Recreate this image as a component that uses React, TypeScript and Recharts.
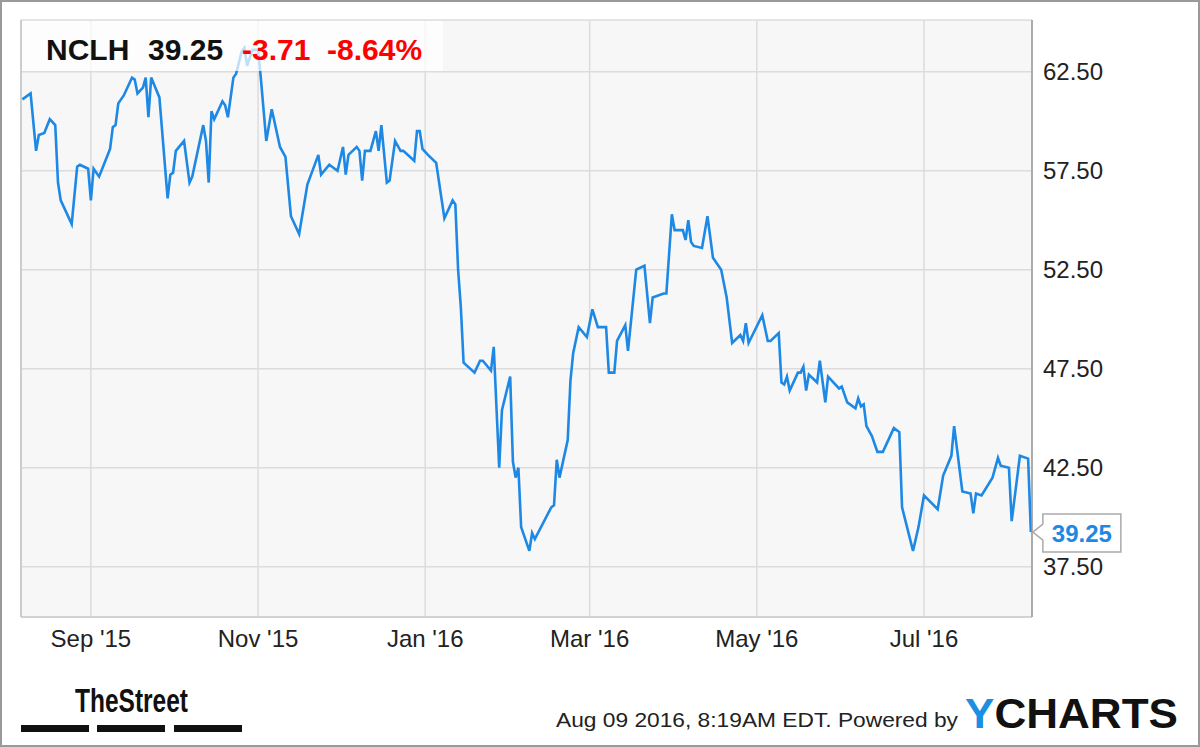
import React from 'react';
import {
  LineChart,
  Line,
  XAxis,
  YAxis,
  CartesianGrid,
  ReferenceLine,
  ReferenceDot,
} from 'recharts';

// ---------------------------------------------------------------------------
// Data (NCLH daily close)
// ---------------------------------------------------------------------------
const dates = [
  '2015-08-07', '2015-08-10', '2015-08-12', '2015-08-13', '2015-08-15', '2015-08-17', '2015-08-19', '2015-08-20',
  '2015-08-21', '2015-08-25', '2015-08-27', '2015-08-28', '2015-08-31', '2015-09-01', '2015-09-02', '2015-09-04',
  '2015-09-06', '2015-09-08', '2015-09-09', '2015-09-10', '2015-09-11', '2015-09-13', '2015-09-16', '2015-09-17',
  '2015-09-18', '2015-09-20', '2015-09-21', '2015-09-22', '2015-09-23', '2015-09-26', '2015-09-29', '2015-09-30',
  '2015-10-01', '2015-10-02', '2015-10-05', '2015-10-07', '2015-10-08', '2015-10-12', '2015-10-13', '2015-10-14',
  '2015-10-15', '2015-10-16', '2015-10-19', '2015-10-20', '2015-10-21', '2015-10-23', '2015-10-24', '2015-10-26',
  '2015-10-27', '2015-10-28', '2015-10-30', '2015-11-01', '2015-11-02', '2015-11-04', '2015-11-06', '2015-11-09',
  '2015-11-11', '2015-11-13', '2015-11-16', '2015-11-19', '2015-11-23', '2015-11-24', '2015-11-27', '2015-11-30',
  '2015-12-02', '2015-12-03', '2015-12-04', '2015-12-07', '2015-12-08', '2015-12-09', '2015-12-10', '2015-12-12',
  '2015-12-14', '2015-12-15', '2015-12-16', '2015-12-18', '2015-12-19', '2015-12-21', '2015-12-23', '2015-12-24',
  '2015-12-28', '2015-12-29', '2015-12-30', '2015-12-31', '2016-01-02', '2016-01-05', '2016-01-08', '2016-01-11',
  '2016-01-12', '2016-01-13', '2016-01-14', '2016-01-15', '2016-01-19', '2016-01-21', '2016-01-22', '2016-01-25',
  '2016-01-26', '2016-01-28', '2016-01-29', '2016-02-01', '2016-02-02', '2016-02-03', '2016-02-04', '2016-02-05',
  '2016-02-08', '2016-02-09', '2016-02-10', '2016-02-16', '2016-02-17', '2016-02-18', '2016-02-19', '2016-02-22',
  '2016-02-23', '2016-02-24', '2016-02-26', '2016-02-29', '2016-03-02', '2016-03-04', '2016-03-07', '2016-03-08',
  '2016-03-10', '2016-03-11', '2016-03-14', '2016-03-15', '2016-03-18', '2016-03-21', '2016-03-23', '2016-03-24',
  '2016-03-28', '2016-03-29', '2016-03-31', '2016-04-01', '2016-04-04', '2016-04-05', '2016-04-06', '2016-04-07',
  '2016-04-08', '2016-04-11', '2016-04-13', '2016-04-15', '2016-04-18', '2016-04-20', '2016-04-22', '2016-04-25',
  '2016-04-26', '2016-04-27', '2016-04-28', '2016-05-03', '2016-05-05', '2016-05-06', '2016-05-09', '2016-05-10',
  '2016-05-11', '2016-05-12', '2016-05-13', '2016-05-16', '2016-05-17', '2016-05-18', '2016-05-19', '2016-05-20',
  '2016-05-23', '2016-05-24', '2016-05-26', '2016-05-27', '2016-05-31', '2016-06-01', '2016-06-03', '2016-06-06',
  '2016-06-07', '2016-06-08', '2016-06-09', '2016-06-10', '2016-06-12', '2016-06-14', '2016-06-16', '2016-06-20',
  '2016-06-22', '2016-06-23', '2016-06-27', '2016-06-29', '2016-07-01', '2016-07-06', '2016-07-08', '2016-07-11',
  '2016-07-12', '2016-07-15', '2016-07-18', '2016-07-19', '2016-07-20', '2016-07-22', '2016-07-26', '2016-07-28',
  '2016-07-29', '2016-08-01', '2016-08-02', '2016-08-05', '2016-08-08', '2016-08-09',
];

const prices = [
  61.1, 61.4, 58.5, 59.3, 59.4, 60.1, 59.8, 56.9,
  56.0, 54.8, 57.7, 57.8, 57.6, 56.0, 57.6, 57.2,
  57.9, 58.6, 59.7, 59.8, 60.9, 61.3, 62.2, 62.1,
  61.4, 61.7, 62.2, 60.2, 62.2, 61.2, 56.1, 57.3,
  57.4, 58.5, 59.0, 56.9, 57.2, 59.8, 59.0, 56.9,
  60.5, 60.1, 61.0, 60.8, 60.2, 62.2, 62.4, 63.5,
  63.7, 62.8, 63.6, 63.6, 62.2, 59.0, 60.6, 58.7,
  58.2, 55.2, 54.3, 56.8, 58.3, 57.3, 57.8, 57.5,
  58.7, 57.3, 58.3, 58.7, 58.5, 57.0, 58.5, 58.5,
  59.5, 58.5, 59.8, 56.9, 57.0, 59.0, 58.5, 58.5,
  58.0, 59.5, 59.5, 58.6, 58.3, 57.9, 55.1, 56.0,
  55.8, 52.5, 50.6, 47.8, 47.3, 47.9, 47.9, 47.4,
  48.6, 42.5, 45.4, 47.1, 42.8, 42.0, 42.5, 39.5,
  38.3, 39.2, 38.9, 40.5, 40.6, 42.9, 42.0, 43.9,
  46.9, 48.3, 49.6, 49.1, 50.5, 49.6, 49.6, 47.3,
  47.3, 48.9, 49.7, 48.4, 52.5, 52.7, 49.8, 51.1,
  51.3, 51.3, 55.3, 54.5, 54.5, 54.0, 55.0, 53.9,
  53.7, 53.6, 55.2, 53.1, 52.5, 51.1, 48.8, 49.2,
  48.9, 49.8, 48.8, 50.2, 48.9, 48.9, 49.3, 46.8,
  46.7, 47.1, 46.4, 47.3, 47.3, 47.6, 46.4, 47.2,
  46.8, 47.9, 45.8, 47.1, 46.5, 46.6, 45.8, 45.5,
  46.0, 45.6, 45.7, 44.6, 44.1, 43.3, 43.3, 44.5,
  44.3, 40.5, 38.3, 39.5, 41.1, 40.4, 42.1, 43.1,
  44.6, 41.3, 41.2, 40.2, 41.2, 41.1, 42.0, 43.0,
  42.6, 42.5, 39.8, 43.1, 42.96, 39.25,
];

const xTickDates = ['2015-09-01', '2015-11-01', '2016-01-01', '2016-03-01', '2016-05-01', '2016-07-01'];
const yTicks = [37.5, 42.5, 47.5, 52.5, 57.5, 62.5];

const ticker = 'NCLH';
const lastPrice = 39.25;
const change = -3.71;
const changePct = -8.64;

// ---------------------------------------------------------------------------
// Derived
// ---------------------------------------------------------------------------
const data = dates.map((d, i) => ({ t: Date.parse(d), price: prices[i] }));
const lastPoint = data[data.length - 1];
const xTicks = xTickDates.map((d) => Date.parse(d));
const xDomain = [Date.UTC(2015, 7, 6, 12), Date.UTC(2016, 7, 9, 10)];
const yDomain = [34.96, 65.11];

const MONTHS = ['Jan', 'Feb', 'Mar', 'Apr', 'May', 'Jun', 'Jul', 'Aug', 'Sep', 'Oct', 'Nov', 'Dec'];
const fmtDate = (t: number) => {
  const d = new Date(t);
  return `${MONTHS[d.getUTCMonth()]} '${String(d.getUTCFullYear()).slice(2)}`;
};

const FONT = '"Liberation Sans", Arial, sans-serif';
const BLUE = '#1e88e5';

// last-value callout sitting on the price axis
const LastValueTag = (props: any) => {
  const { cx, cy } = props;
  if (cx == null || cy == null) return <g />;
  const tip = cx + 2;
  const bx = tip + 10;
  const w = 78;
  return (
    <g>
      <path
        d={`M${tip},${cy} L${bx},${cy - 8} L${bx},${cy - 18} L${bx + w},${cy - 18} L${bx + w},${cy + 20} L${bx},${cy + 20} L${bx},${cy + 8} Z`}
        fill="#ffffff"
        stroke="#aaaaaa"
        strokeWidth={1.5}
      />
      <text
        x={bx + w / 2}
        y={cy + 10}
        textAnchor="middle"
        fill={BLUE}
        fontFamily={FONT}
        fontWeight="bold"
        fontSize={24}
      >
        {lastPrice.toFixed(2)}
      </text>
    </g>
  );
};

export default function App() {
  return (
    <div style={{ position: 'absolute', left: 0, top: 0, width: 1200, height: 747, background: '#ffffff' }}>
      <LineChart width={1200} height={747} data={data} margin={{ top: 20, right: 0, left: 21, bottom: 90 }}>
        <CartesianGrid fill="#f7f7f7" stroke="#dcdcdc" strokeWidth={1.5} />
        <XAxis
          dataKey="t"
          type="number"
          scale="linear"
          domain={xDomain}
          ticks={xTicks}
          tickFormatter={fmtDate}
          height={40}
          tickLine={false}
          tickMargin={7}
          axisLine={{ stroke: '#cccccc', strokeWidth: 1.5 }}
          tick={{ fill: '#222222', fontSize: 24, fontFamily: FONT }}
          allowDataOverflow
        />
        <YAxis
          orientation="right"
          type="number"
          domain={yDomain}
          ticks={yTicks}
          tickFormatter={(v: number) => v.toFixed(2)}
          width={168}
          tickLine={false}
          tickMargin={5}
          axisLine={{ stroke: '#999999', strokeWidth: 1.5 }}
          tick={{ fill: '#222222', fontSize: 24, fontFamily: FONT, textAnchor: 'start' }}
          allowDataOverflow
        />
        <ReferenceLine x={xDomain[0]} stroke="#c4c4c4" strokeWidth={1.5} />
        <Line
          type="linear"
          dataKey="price"
          stroke={BLUE}
          strokeWidth={2.6}
          dot={false}
          activeDot={false}
          isAnimationActive={false}
        />
        <ReferenceDot
          x={lastPoint.t}
          y={lastPoint.price}
          ifOverflow="visible"
          shape={(p: any) => <LastValueTag {...p} />}
        />
      </LineChart>

      <svg
        width={1200}
        height={747}
        style={{ position: 'absolute', left: 0, top: 0, pointerEvents: 'none' }}
      >
        {/* header box */}
        <rect x={22} y={21} width={421} height={50} fill="rgba(255,255,255,0.72)" />
        <text y={60} fontFamily={FONT} fontWeight="bold" fontSize={30}>
          <tspan x={46} fill="#111111">{ticker}</tspan>
          <tspan x={148} fill="#111111">{lastPrice.toFixed(2)}</tspan>
          <tspan x={242} fill="#ff0000">{change.toFixed(2)}</tspan>
          <tspan x={327} fill="#ff0000">{`${changePct.toFixed(2)}%`}</tspan>
        </text>

        {/* TheStreet logo */}
        <text
          x={75}
          y={712}
          fontFamily='"Liberation Sans Narrow", "Liberation Sans", Arial, sans-serif'
          fontWeight="bold"
          fontSize={34}
          fill="#111111"
          textLength={113}
          lengthAdjust="spacingAndGlyphs"
        >
          TheStreet
        </text>
        <rect x={21} y={725} width={68} height={7} fill="#111111" />
        <rect x={97} y={725} width={68} height={7} fill="#111111" />
        <rect x={174} y={725} width={68} height={7} fill="#111111" />

        {/* credits */}
        <text
          x={556}
          y={727}
          fontFamily={FONT}
          fontSize={21}
          fill="#222222"
          textLength={402}
          lengthAdjust="spacingAndGlyphs"
        >
          Aug 09 2016, 8:19AM EDT.  Powered by
        </text>
        <text
          x={965}
          y={728}
          fontFamily={FONT}
          fontWeight="bold"
          fontSize={43}
          textLength={213}
          lengthAdjust="spacingAndGlyphs"
        >
          <tspan fill="#1a8fe3">Y</tspan>
          <tspan fill="#111111">CHARTS</tspan>
        </text>

        {/* outer frame */}
        <rect x={1} y={1} width={1198} height={745} fill="none" stroke="#9a9a9a" strokeWidth={2} />
      </svg>
    </div>
  );
}
